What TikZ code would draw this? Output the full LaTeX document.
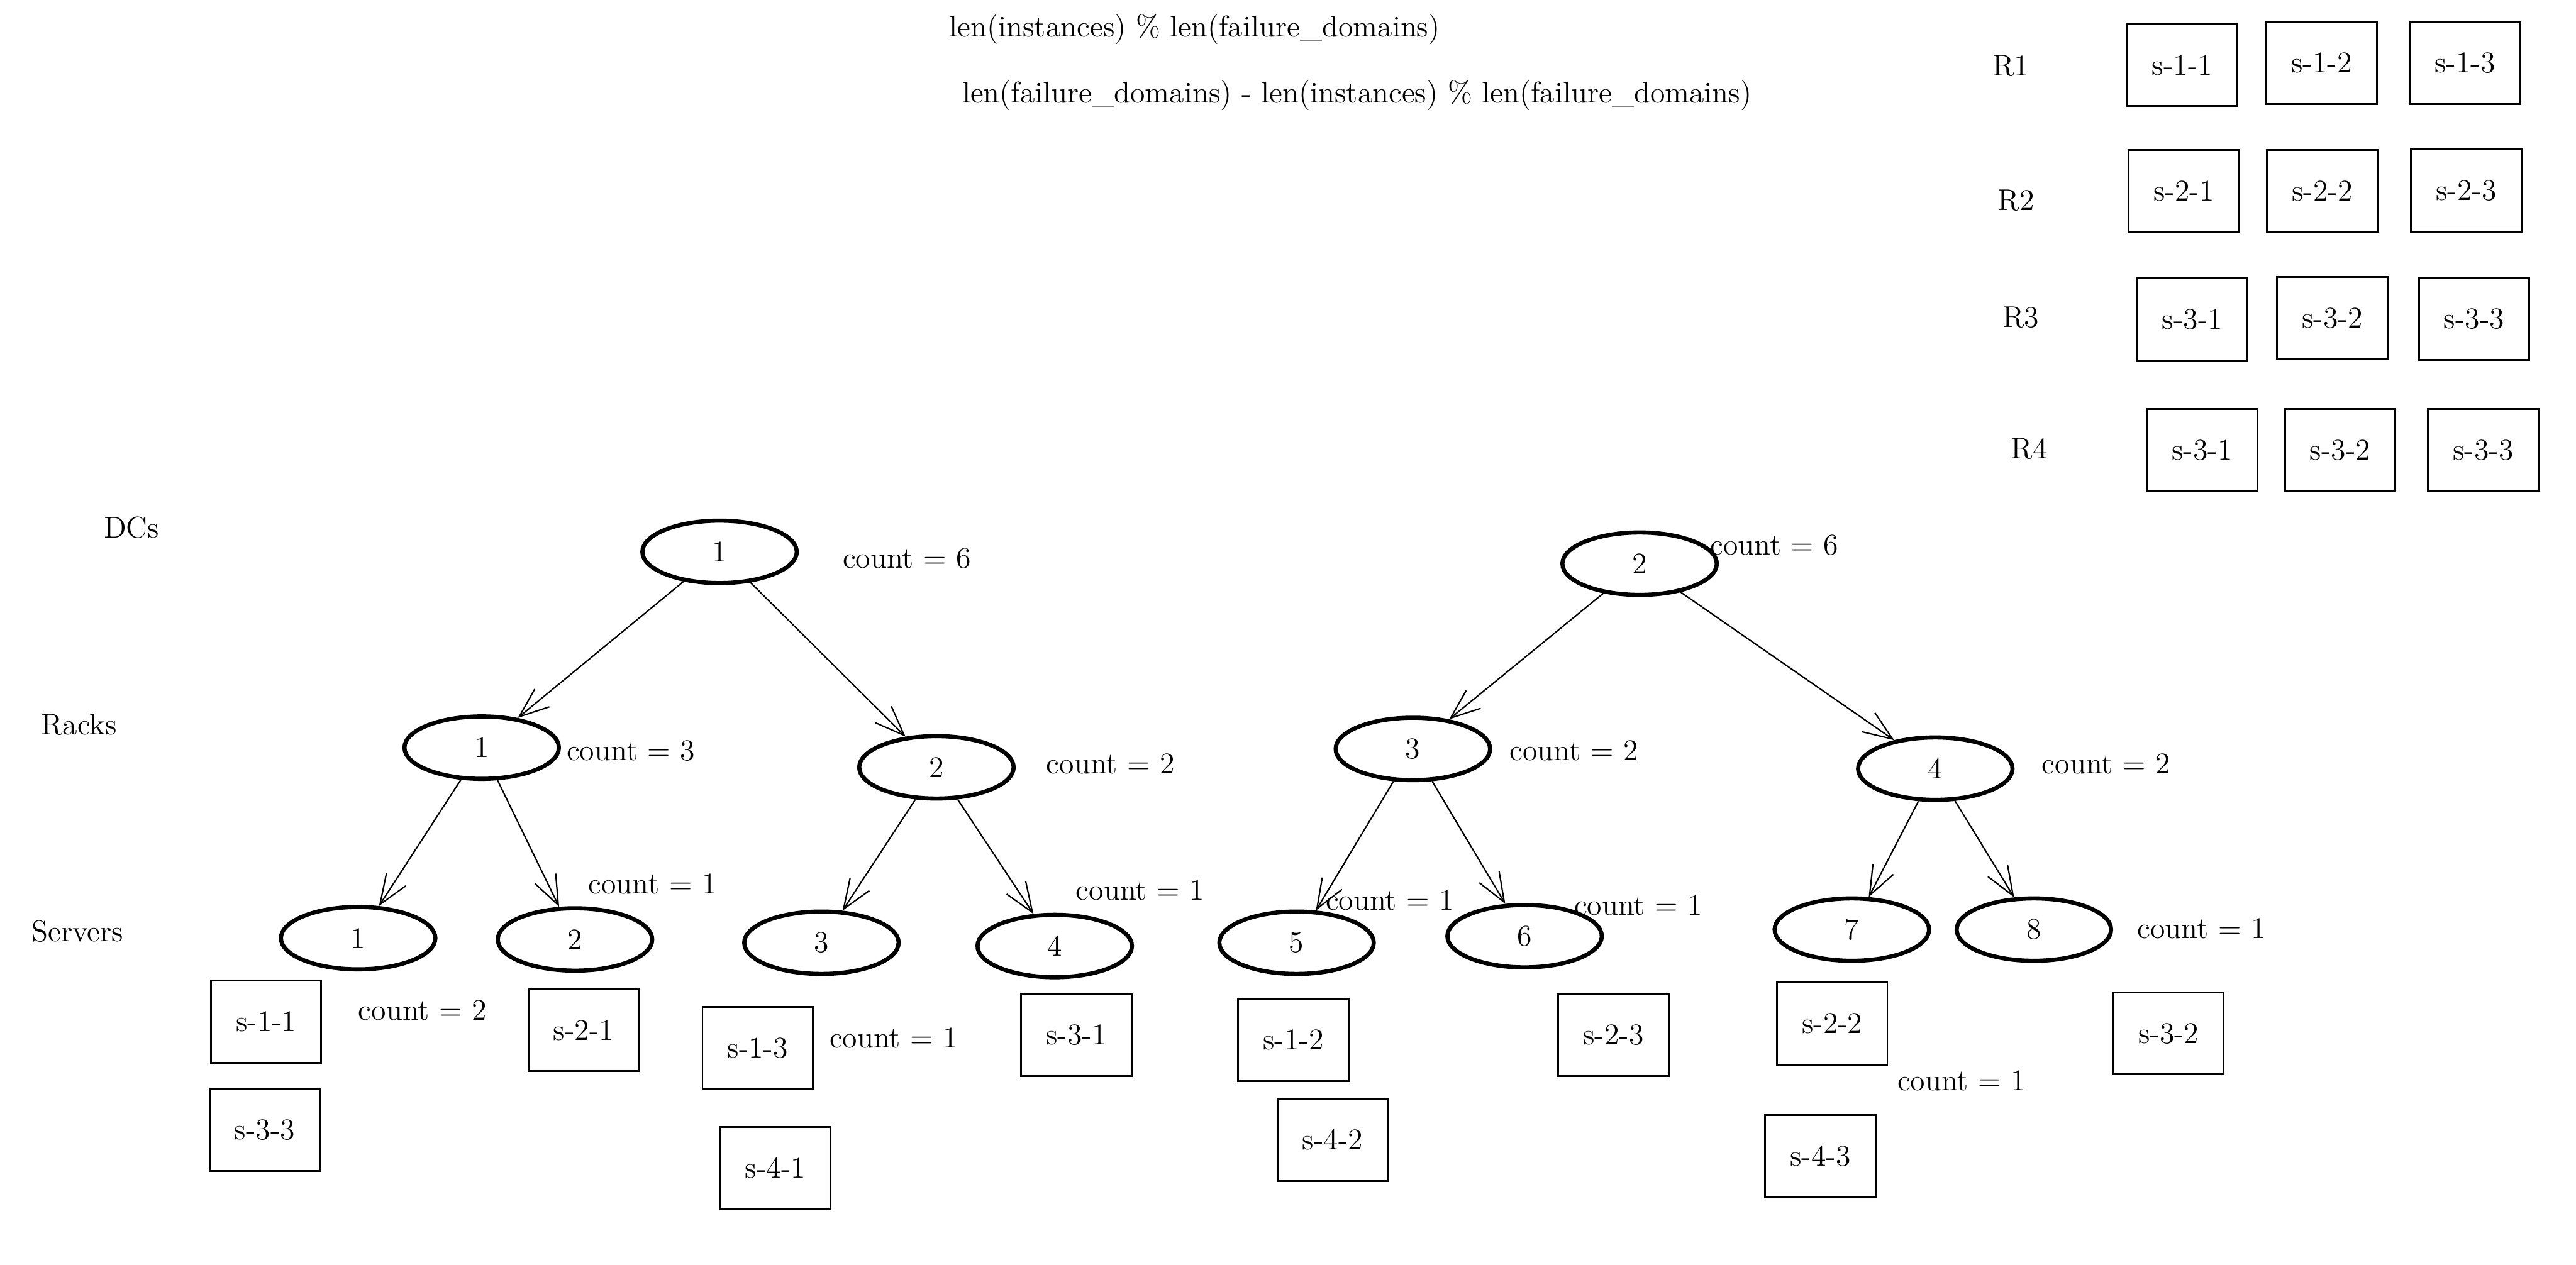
\documentclass[tikz,border=0pt]{standalone}
\usepackage{tikz}
\usetikzlibrary{arrows.meta, positioning, shapes.geometric}
\tikzset{
    treeNode/.style={ellipse, draw=black, line width=1.8pt, minimum width=23.5mm, minimum height=9.5mm, inner sep=0pt, font=\fontsize{13}{15}\selectfont},
    srvBox/.style={rectangle, draw=black, line width=0.8pt, minimum width=16.8mm, minimum height=12.5mm, inner sep=0pt, font=\fontsize{13}{15}\selectfont},
    txtLbl/.style={inner sep=1pt, font=\fontsize{13}{15}\selectfont},
    link/.style={->, line width=0.6pt}
}

\begin{document}
\begin{tikzpicture}[>={Straight Barb[length=4.5mm, width=3.5mm]}]
    \useasboundingbox (0,0) rectangle (39.2,-19.25);
    % --- formulas ---
    \node[txtLbl] (f1) at (18.18,-0.45) {len(instances) \% len(failure\_domains)};
    \node[txtLbl] (f2) at (20.65,-1.45) {len(failure\_domains) - len(instances) \% len(failure\_domains)};
    % --- racks table ---
    \node[txtLbl] (r1) at (30.60,-1.00) {R1};
    \node[txtLbl] (r2) at (30.68,-3.05) {R2};
    \node[txtLbl] (r3) at (30.75,-4.83) {R3};
    \node[txtLbl] (r4) at (30.88,-6.83) {R4};
    \node[srvBox] (g11) at (33.21,-0.99) {s-1-1};
    \node[srvBox] (g12) at (35.33,-0.96) {s-1-2};
    \node[srvBox] (g13) at (37.51,-0.96) {s-1-3};
    \node[srvBox] (g21) at (33.23,-2.91) {s-2-1};
    \node[srvBox] (g22) at (35.34,-2.91) {s-2-2};
    \node[srvBox] (g23) at (37.53,-2.90) {s-2-3};
    \node[srvBox] (g31) at (33.36,-4.86) {s-3-1};
    \node[srvBox] (g32) at (35.49,-4.84) {s-3-2};
    \node[srvBox] (g33) at (37.65,-4.85) {s-3-3};
    \node[srvBox] (g41) at (33.51,-6.85) {s-3-1};
    \node[srvBox] (g42) at (35.61,-6.85) {s-3-2};
    \node[srvBox] (g43) at (37.79,-6.85) {s-3-3};
    % --- level names ---
    \node[txtLbl] (lvDc) at (2.00,-8.03) {DCs};
    \node[txtLbl] (lvRack) at (1.20,-11.03) {Racks};
    \node[txtLbl] (lvSrv) at (1.18,-14.18) {Servers};
    % --- DCs ---
    \node[treeNode] (dc1) at (10.95,-8.40) {1};
    \node[treeNode] (dc2) at (24.95,-8.58) {2};
    \node[txtLbl] (cDc1) at (13.80,-8.50) {count = 6};
    \node[txtLbl] (cDc2) at (27.00,-8.30) {count = 6};
    % --- Racks ---
    \node[treeNode] (rk1) at (7.33,-11.38) {1};
    \node[treeNode] (rk2) at (14.25,-11.68) {2};
    \node[treeNode] (rk3) at (21.50,-11.40) {3};
    \node[treeNode] (rk4) at (29.45,-11.70) {4};
    \node[txtLbl] (cRk1) at (9.60,-11.43) {count = 3};
    \node[txtLbl] (cRk2) at (16.90,-11.63) {count = 2};
    \node[txtLbl] (cRk3) at (23.95,-11.43) {count = 2};
    \node[txtLbl] (cRk4) at (32.05,-11.63) {count = 2};
    \draw[link] (dc1) -- (rk1);
    \draw[link] (dc1) -- (rk2);
    \draw[link] (dc2) -- (rk3);
    \draw[link] (dc2) -- (rk4);
    % --- Servers ---
    \node[treeNode] (sv1) at (5.45,-14.28) {1};
    \node[treeNode] (sv2) at (8.75,-14.30) {2};
    \node[treeNode] (sv3) at (12.50,-14.35) {3};
    \node[treeNode] (sv4) at (16.05,-14.40) {4};
    \node[treeNode] (sv5) at (19.73,-14.35) {5};
    \node[treeNode] (sv6) at (23.20,-14.25) {6};
    \node[treeNode] (sv7) at (28.18,-14.15) {7};
    \node[treeNode] (sv8) at (30.95,-14.15) {8};
    \node[txtLbl] (cSv1) at (6.43,-15.38) {count = 2};
    \node[txtLbl] (cSv2) at (9.93,-13.45) {count = 1};
    \node[txtLbl] (cSv3) at (13.60,-15.80) {count = 1};
    \node[txtLbl] (cSv4) at (17.35,-13.55) {count = 1};
    \node[txtLbl] (cSv5) at (21.15,-13.70) {count = 1};
    \node[txtLbl] (cSv6) at (24.93,-13.78) {count = 1};
    \node[txtLbl] (cSv7) at (29.85,-16.45) {count = 1};
    \node[txtLbl] (cSv8) at (33.50,-14.13) {count = 1};
    \draw[link] (rk1) -- (sv1);
    \draw[link] (rk1) -- (sv2);
    \draw[link] (rk2) -- (sv3);
    \draw[link] (rk2) -- (sv4);
    \draw[link] (rk3) -- (sv5);
    \draw[link] (rk3) -- (sv6);
    \draw[link] (rk4) -- (sv7);
    \draw[link] (rk4) -- (sv8);
    % --- placed instances ---
    \node[srvBox] (p1a) at (4.05,-15.55) {s-1-1};
    \node[srvBox] (p1b) at (4.03,-17.20) {s-3-3};
    \node[srvBox] (p2a) at (8.88,-15.68) {s-2-1};
    \node[srvBox] (p3a) at (11.53,-15.95) {s-1-3};
    \node[srvBox] (p3b) at (11.80,-17.78) {s-4-1};
    \node[srvBox] (p4a) at (16.38,-15.75) {s-3-1};
    \node[srvBox] (p5a) at (19.68,-15.83) {s-1-2};
    \node[srvBox] (p5b) at (20.28,-17.35) {s-4-2};
    \node[srvBox] (p6a) at (24.55,-15.75) {s-2-3};
    \node[srvBox] (p7a) at (27.88,-15.58) {s-2-2};
    \node[srvBox] (p7b) at (27.70,-17.60) {s-4-3};
    \node[srvBox] (p8a) at (33.00,-15.73) {s-3-2};
\end{tikzpicture}
\end{document}
